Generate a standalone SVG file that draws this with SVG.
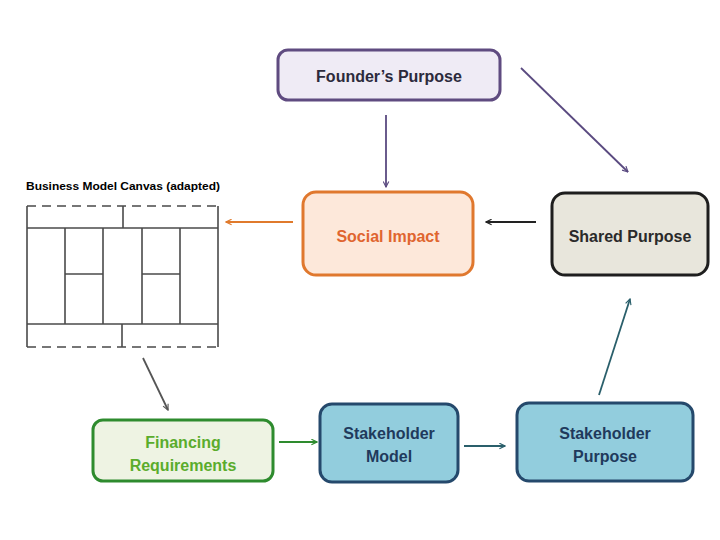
<svg xmlns="http://www.w3.org/2000/svg" width="720" height="540" viewBox="0 0 720 540">
<style>
.box{stroke-width:3}
.t{font-family:"Liberation Sans",Arial,sans-serif;font-weight:bold;font-size:16px;text-anchor:middle;dominant-baseline:central}
.c{stroke:#4a4a4a;stroke-width:1.6;fill:none}
.cd{stroke:#4a4a4a;stroke-width:1.6;fill:none;stroke-dasharray:9 6}
.a{fill:none;stroke-width:1.8}
</style>
<defs>
<marker id="mp" viewBox="0 0 10 10" refX="9" refY="5" markerWidth="7" markerHeight="7" orient="auto" markerUnits="userSpaceOnUse"><path d="M1,1 L9,5 L1,9" fill="none" stroke="#5a4a80" stroke-width="1.6"/></marker>
<marker id="mo" viewBox="0 0 10 10" refX="9" refY="5" markerWidth="7" markerHeight="7" orient="auto" markerUnits="userSpaceOnUse"><path d="M1,1 L9,5 L1,9" fill="none" stroke="#e07a2c" stroke-width="1.6"/></marker>
<marker id="mk" viewBox="0 0 10 10" refX="9" refY="5" markerWidth="7" markerHeight="7" orient="auto" markerUnits="userSpaceOnUse"><path d="M1,1 L9,5 L1,9" fill="none" stroke="#222" stroke-width="1.6"/></marker>
<marker id="mg" viewBox="0 0 10 10" refX="9" refY="5" markerWidth="7" markerHeight="7" orient="auto" markerUnits="userSpaceOnUse"><path d="M1,1 L9,5 L1,9" fill="none" stroke="#555" stroke-width="1.6"/></marker>
<marker id="mgr" viewBox="0 0 10 10" refX="9" refY="5" markerWidth="7" markerHeight="7" orient="auto" markerUnits="userSpaceOnUse"><path d="M1,1 L9,5 L1,9" fill="none" stroke="#2e8b2e" stroke-width="1.6"/></marker>
<marker id="mt" viewBox="0 0 10 10" refX="9" refY="5" markerWidth="7" markerHeight="7" orient="auto" markerUnits="userSpaceOnUse"><path d="M1,1 L9,5 L1,9" fill="none" stroke="#2a5f6b" stroke-width="1.6"/></marker>
</defs>

<g id="canvas">
<text x="26" y="190" style="font-family:'Liberation Sans',Arial,sans-serif;font-weight:bold;font-size:11px" textLength="194" lengthAdjust="spacingAndGlyphs">Business Model Canvas (adapted)</text>
<line class="cd" x1="27" y1="206" x2="218" y2="206"/>
<line class="cd" x1="27" y1="347" x2="218" y2="347"/>
<line class="c" x1="27" y1="206" x2="27" y2="347"/>
<line class="c" x1="218" y1="206" x2="218" y2="347"/>
<line class="c" x1="27" y1="228" x2="218" y2="228"/>
<line class="c" x1="27" y1="324" x2="218" y2="324"/>
<line class="c" x1="123" y1="206" x2="123" y2="228"/>
<line class="c" x1="122" y1="324" x2="122" y2="347"/>
<line class="c" x1="65" y1="228" x2="65" y2="324"/>
<line class="c" x1="103" y1="228" x2="103" y2="324"/>
<line class="c" x1="142" y1="228" x2="142" y2="324"/>
<line class="c" x1="180" y1="228" x2="180" y2="324"/>
<line class="c" x1="65" y1="274" x2="103" y2="274"/>
<line class="c" x1="142" y1="274" x2="180" y2="274"/>
</g>

<g id="founders-purpose">
<rect class="box" x="278" y="50" width="222" height="50" rx="10" fill="#efebf5" stroke="#5f4b80"/>
<text class="t" x="389" y="76" fill="#2c2a3c">Founder’s Purpose</text>
</g>

<g id="social-impact">
<rect class="box" x="303" y="192" width="170" height="83" rx="13" fill="#fde8da" stroke="#e0782e"/>
<text class="t" x="388" y="236" fill="#e0652f">Social Impact</text>
</g>

<g id="shared-purpose">
<rect class="box" x="552" y="193" width="156" height="82" rx="13" fill="#e8e6dc" stroke="#1e1e1e"/>
<text class="t" x="630" y="236" fill="#2a2a2a">Shared Purpose</text>
</g>

<g id="financing-requirements">
<rect class="box" x="93" y="420" width="180" height="61" rx="10" fill="#eef3e3" stroke="#2e8b2e"/>
<text class="t" x="183" y="442" fill="#5aac2c">Financing</text>
<text class="t" x="183" y="465" fill="#5aac2c">Requirements</text>
</g>

<g id="stakeholder-model">
<rect class="box" x="320" y="404" width="138" height="78" rx="12" fill="#92cddd" stroke="#25496c"/>
<text class="t" x="389" y="433" fill="#1f3a5c">Stakeholder</text>
<text class="t" x="389" y="456" fill="#1f3a5c">Model</text>
</g>

<g id="stakeholder-purpose">
<rect class="box" x="517" y="403" width="176" height="78" rx="12" fill="#92cddd" stroke="#25496c"/>
<text class="t" x="605" y="433" fill="#1f3a5c">Stakeholder</text>
<text class="t" x="605" y="456" fill="#1f3a5c">Purpose</text>
</g>

<g id="connectors">
<line class="a" x1="386" y1="115" x2="386" y2="187" stroke="#5a4a80" marker-end="url(#mp)"/>
<line class="a" x1="521" y1="68" x2="628" y2="172" stroke="#5a4a80" marker-end="url(#mp)"/>
<line class="a" x1="536" y1="222" x2="486" y2="222" stroke="#222" marker-end="url(#mk)"/>
<line class="a" x1="293" y1="222" x2="226" y2="222" stroke="#e07a2c" marker-end="url(#mo)"/>
<line class="a" x1="143" y1="358" x2="168" y2="410" stroke="#555" marker-end="url(#mg)"/>
<line class="a" x1="279" y1="442" x2="317" y2="442" stroke="#2e8b2e" marker-end="url(#mgr)"/>
<line class="a" x1="464" y1="446" x2="505" y2="446" stroke="#2a5f6b" marker-end="url(#mt)"/>
<line class="a" x1="599" y1="395" x2="630" y2="299" stroke="#2a5f6b" marker-end="url(#mt)"/>
</g>
</svg>
